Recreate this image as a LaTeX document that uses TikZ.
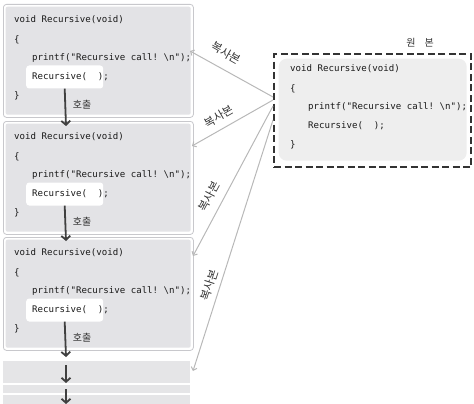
\documentclass[tikz,border=0pt]{standalone}
\usepackage{fontspec}
\setmonofont{DejaVu Sans Mono}
\newfontfamily\kr{Noto Sans CJK KR}
\usetikzlibrary{arrows.meta}
\definecolor{boxfill}{HTML}{E3E3E6}
\definecolor{framecol}{HTML}{C8C8CC}
\definecolor{origfill}{HTML}{EEEEEE}
\definecolor{stripfill}{HTML}{E5E5E7}
\definecolor{darkarrow}{HTML}{404040}
\definecolor{copycol}{HTML}{B8B8B8}
\begin{document}
\begin{tikzpicture}[x=1pt,y=-1pt,
  framebox/.style={draw=framecol, line width=0.8pt, fill=white, rounded corners=3pt, inner sep=0pt, anchor=north west},
  innerbox/.style={fill=boxfill, rounded corners=2pt, inner sep=0pt, anchor=north west},
  recbg/.style={fill=white, rounded corners=3pt, inner sep=0pt, anchor=west, minimum width=77pt, minimum height=23pt},
  code/.style={anchor=west, inner sep=0pt, font=\ttfamily\fontsize{9.1}{11}\selectfont, text=black!90},
  krlabel/.style={inner sep=0pt, font=\kr\fontsize{10}{12}\selectfont, text=black!80},
  copylabel/.style={inner sep=0pt, font=\kr\fontsize{11.5}{13}\selectfont, text=black!80},
  callarrow/.style={draw=darkarrow, line width=1.8pt, -{Straight Barb[length=4pt,width=9pt]}},
  copyarrow/.style={draw=copycol, line width=1pt, -{Straight Barb[length=3pt,width=6pt]}},
  stripbox/.style={fill=stripfill, inner sep=0pt, anchor=north west, minimum width=187pt},
  dashbox/.style={draw=black!80, line width=2.3pt, dash pattern=on 7pt off 3.5pt, inner sep=0pt, anchor=north west},
  origbox/.style={fill=origfill, rounded corners=8pt, inner sep=0pt, anchor=north west}
]
\useasboundingbox (0,0) rectangle (474,404);

% left copies
\foreach \i/\d in {1/0,2/117,3/233}{
  \node[framebox, minimum width=190pt, minimum height=113pt] (f\i) at (3,4+\d) {};
  \node[innerbox, minimum width=185pt, minimum height=108pt] (g\i) at (5.5,6.5+\d) {};
  \node[recbg] (r\i) at (26,77+\d) {};
  \node[code] (v\i) at (14,20+\d) {void Recursive(void)};
  \node[code] (o\i) at (14,40+\d) {\{};
  \node[code] (p\i) at (32,58+\d) {printf("Recursive call! \textbackslash n");};
  \node[code] (c\i) at (32,77+\d) {Recursive(~~);};
  \node[code] (e\i) at (14,96+\d) {\}};
  \node[krlabel] (h\i) at (82,105+\d) {호출};
}

% strips
\node[stripbox, minimum height=22pt] (s1) at (3,361) {};
\node[stripbox, minimum height=8pt] (s2) at (3,385) {};
\node[stripbox, minimum height=9pt] (s3) at (3,395) {};

% call arrows
\coordinate (t1) at (66,126);
\coordinate (t2) at (66,241);
\coordinate (t3) at (66,357);
\coordinate (u1) at (66,365);
\coordinate (w1) at (66,383);
\coordinate (u2) at (66,389);
\coordinate (w2) at (66,404);
\draw[callarrow] (r1.south) -- (t1);
\draw[callarrow] (r2.south) -- (t2);
\draw[callarrow] (r3.south) -- (t3);
\draw[callarrow] (u1) -- (w1);
\draw[callarrow] (u2) -- (w2);

% original
\node[dashbox, minimum width=197pt, minimum height=113pt] (orig) at (273,53) {};
\node[origbox, minimum width=188pt, minimum height=102pt] (origin) at (278.5,58.5) {};
\node[code] (ov) at (290,69) {void Recursive(void)};
\node[code] (oo) at (290,89) {\{};
\node[code] (op) at (308,107) {printf("Recursive call! \textbackslash n");};
\node[code] (oc) at (308,126) {Recursive(~~);};
\node[code] (oe) at (290,145) {\}};
\node[krlabel] (wb) at (420,43) {원\hspace{9pt}본};

% copy arrows
\coordinate (a1) at (273,97);
\coordinate (a2) at (273,100);
\coordinate (a3) at (273,106);
\coordinate (a4) at (273,120);
\coordinate (b1) at (190,51);
\coordinate (b2) at (192,146);
\coordinate (b3) at (193,256);
\coordinate (b4) at (193,371);
\draw[copyarrow] (a1) -- (b1);
\draw[copyarrow] (a2) -- (b2);
\draw[copyarrow] (a3) -- (b3);
\draw[copyarrow] (a4) -- (b4);
\node[copylabel, rotate=-29.5] (l1) at (226.5,53) {복사본};
\node[copylabel, rotate=29.6] (l2) at (219,116.5) {복사본};
\node[copylabel, rotate=62] (l3) at (209.5,196.5) {복사본};
\node[copylabel, rotate=72] (l4) at (209.5,285) {복사본};
\end{tikzpicture}
\end{document}
